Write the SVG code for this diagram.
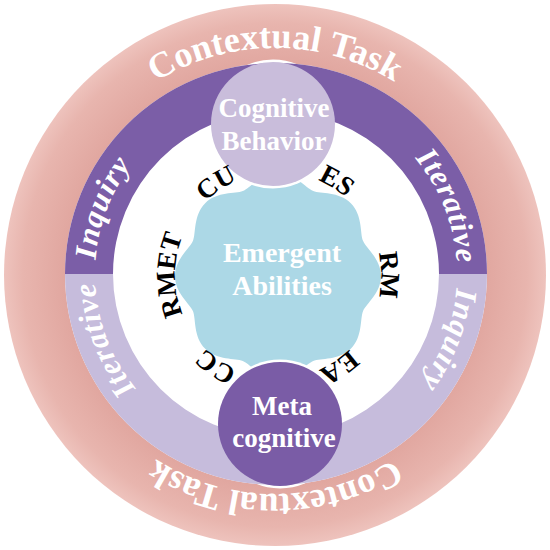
<svg xmlns="http://www.w3.org/2000/svg" xmlns:xlink="http://www.w3.org/1999/xlink" width="550" height="550" viewBox="0 0 550 550">
<style>
.big{font-family:"Liberation Serif","Times New Roman",serif;font-weight:bold;fill:#ffffff;text-anchor:middle}
.ring{font-family:"Liberation Serif","Times New Roman",serif;font-weight:bold;font-style:italic;font-size:31px;fill:#ffffff;letter-spacing:1px}
.lab{font-family:"Liberation Serif","Times New Roman",serif;font-weight:bold;font-size:27px;fill:#000000}
.ctx{font-family:"Liberation Serif","Times New Roman",serif;font-weight:bold;font-size:36px;fill:#ffffff}
</style>
<defs>
<radialGradient id="pinkG" cx="275" cy="275" r="271" gradientUnits="userSpaceOnUse">
<stop offset="0.78" stop-color="#e1a7a0"/>
<stop offset="0.93" stop-color="#e8b5ae"/>
<stop offset="1" stop-color="#eec3bd"/>
</radialGradient>
<path id="pOuterTop" d="M275,502 A227,227 0 1 1 275,48 A227,227 0 1 1 275,502"/>
<path id="pOuterBot" d="M275,56 A219,219 0 1 1 275,494 A219,219 0 1 1 275,56"/>
<path id="pRing" d="M276,93 A181,181 0 1 1 276,455 A181,181 0 1 1 276,93"/>
<path id="pLab" d="M278,172 A103,103 0 1 1 278,378 A103,103 0 1 1 278,172"/>
</defs>

<g id="background">
<circle cx="275" cy="275" r="271" fill="url(#pinkG)"/>
<circle cx="276" cy="274" r="211" fill="#ffffff"/>
</g>

<g id="emergent-abilities">
<path fill="#acd8e6" d="M381,276 C381,293 366.06,303.81 363,311.2 C359.94,318.59 362.82,336.78 350.8,348.8 C338.78,360.82 320.59,357.94 313.2,361 C305.81,364.06 295,379 278,379 C261,379 250.19,364.06 242.8,361 C235.41,357.94 217.22,360.82 205.2,348.8 C193.18,336.78 196.06,318.59 193,311.2 C189.94,303.81 175,293 175,276 C175,259 189.94,248.19 193,240.8 C196.06,233.41 193.18,215.22 205.2,203.2 C217.22,191.18 235.41,194.06 242.8,191 C250.19,187.94 261,173 278,173 C295,173 305.81,187.94 313.2,191 C320.59,194.06 338.78,191.18 350.8,203.2 C362.82,215.22 359.94,233.41 363,240.8 C366.06,248.19 381,259 381,276 Z"/>
<text class="big" font-size="28" x="282" y="262">Emergent</text>
<text class="big" font-size="28" x="282" y="295">Abilities</text>
</g>

<g id="halos">
<circle cx="273" cy="124" r="64.5" fill="#ffffff"/>
<circle cx="280" cy="424" r="64.5" fill="#ffffff"/>
</g>

<g id="ring">
<path fill="#7b5ea7" d="M65,274 A211,211 0 0 1 487,274 L439,274 A163,163 0 0 0 113,274 Z"/>
<path fill="#c6bcdc" d="M65,274 A211,211 0 0 0 487,274 L439,274 A163,163 0 0 1 113,274 Z"/>
<text class="ring"><textPath xlink:href="#pRing" href="#pRing" startOffset="19.03%" text-anchor="middle">Iterative</textPath></text>
<text class="ring"><textPath xlink:href="#pRing" href="#pRing" startOffset="30.8%" text-anchor="middle">Inquiry</textPath></text>
<text class="ring"><textPath xlink:href="#pRing" href="#pRing" startOffset="69.2%" text-anchor="middle">Iterative</textPath></text>
<text class="ring"><textPath xlink:href="#pRing" href="#pRing" startOffset="80.8%" text-anchor="middle">Inquiry</textPath></text>
</g>

<g id="contextual-task">
<text class="ctx"><textPath xlink:href="#pOuterTop" href="#pOuterTop" startOffset="50%" text-anchor="middle">Contextual Task</textPath></text>
<text class="ctx"><textPath xlink:href="#pOuterBot" href="#pOuterBot" startOffset="50%" text-anchor="middle">Contextual Task</textPath></text>
</g>

<g id="cognitive-behavior">
<circle cx="273" cy="124" r="62" fill="#c9bddb"/>
<text class="big" font-size="27" x="274" y="117">Cognitive</text>
<text class="big" font-size="27" x="274" y="150">Behavior</text>
</g>

<g id="metacognitive">
<circle cx="280" cy="424" r="62" fill="#7a5ca6"/>
<text class="big" font-size="27" x="282" y="415">Meta</text>
<text class="big" font-size="27" x="284" y="447">cognitive</text>
</g>

<g id="labels">
<text class="lab"><textPath xlink:href="#pLab" href="#pLab" startOffset="8.89%" text-anchor="middle">ES</textPath></text>
<text class="lab"><textPath xlink:href="#pLab" href="#pLab" startOffset="25%" text-anchor="middle">RM</textPath></text>
<text class="lab"><textPath xlink:href="#pLab" href="#pLab" startOffset="40.7%" text-anchor="middle">EA</textPath></text>
<text class="lab"><textPath xlink:href="#pLab" href="#pLab" startOffset="59.5%" text-anchor="middle">CC</textPath></text>
<text class="lab"><textPath xlink:href="#pLab" href="#pLab" startOffset="75%" text-anchor="middle">RMET</textPath></text>
<text class="lab"><textPath xlink:href="#pLab" href="#pLab" startOffset="90.56%" text-anchor="middle">CU</textPath></text>
</g>
</svg>
